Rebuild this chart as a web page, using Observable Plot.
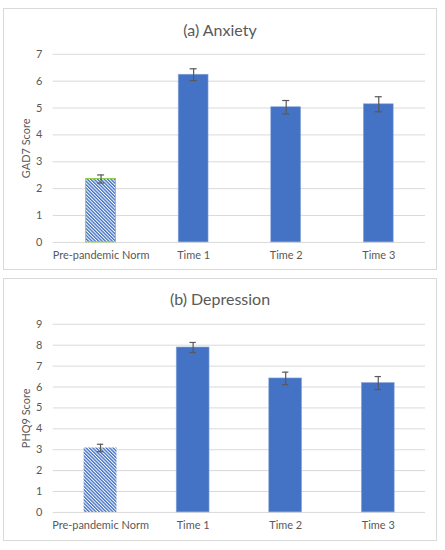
<!DOCTYPE html>
<html>
<head>
<meta charset="utf-8">
<script src="https://cdn.jsdelivr.net/npm/d3@7"></script>
<script src="https://cdn.jsdelivr.net/npm/@observablehq/plot@0.6"></script>
<style>
  body { margin: 0; background: #fff; font-family: Lato, "Open Sans", sans-serif; }
  .panel { position: absolute; left: 3px; width: 434px; border: 1px solid #d9d9d9; box-sizing: border-box; background: #fff; }
  .panel .ttl { position: absolute; left: 0; right: 0; text-align: center; font-size: 16px; color: #595959; }
  .panel svg { position: absolute; left: 0; top: 0; }
</style>
</head>
<body>
<div class="panel" id="p1" style="top:8px;height:262px;"><div class="ttl" style="top:11px;">(a) Anxiety</div></div>
<div class="panel" id="p2" style="top:278px;height:263px;"><div class="ttl" style="top:10px;">(b) Depression</div></div>
<script>
const groups = ["Pre-pandemic Norm", "Time 1", "Time 2", "Time 3"];
const anxietyMean = [2.36, 6.24, 5.03, 5.14];
const anxietyErr = [0.15, 0.22, 0.25, 0.28];
const depressionMean = [3.08, 7.89, 6.41, 6.19];
const depressionErr = [0.18, 0.24, 0.3, 0.31];

const blue = "#4472C4";
const grey = "#595959";

function panel(el, means, errs, yLabel, yMax, pad, outline, mb, id) {
  const rows = groups.map((g, i) => ({group: g, mean: means[i], err: errs[i]}));
  const w = 434, h = el.clientHeight + 2;
  // caps about 7px wide, bars are (1 - pad) of the step
  const capInset = ((1 - pad) * 93.5 - 7) / 2;
  const chart = Plot.plot({
    width: w,
    height: h,
    marginLeft: 49,
    marginRight: 11,
    marginTop: 45,
    marginBottom: mb,
    style: {fontFamily: "Lato, 'Open Sans', sans-serif", fontSize: "11px", color: grey, background: "transparent"},
    x: {domain: groups, paddingInner: pad, paddingOuter: pad / 2, label: null, tickSize: 0, tickPadding: 9},
    y: {domain: [0, yMax], ticks: d3.range(0, yMax + 1), tickFormat: "d", label: yLabel, labelAnchor: "center", labelArrow: "none", labelOffset: 31, tickSize: 0, tickPadding: 11},
    marks: [
      Plot.gridY(d3.range(0, yMax + 1), {stroke: "#d9d9d9", strokeOpacity: 1, strokeWidth: 1}),
      Plot.barY(rows.slice(1), {x: "group", y: "mean", fill: blue, stroke: "#8faadc", strokeWidth: 0.6}),
      Plot.barY(rows.slice(0, 1), {x: "group", y: "mean", fill: `url(#${id})`, stroke: outline, strokeWidth: 1}),
      Plot.ruleX(rows, {x: "group", y1: d => d.mean - d.err, y2: d => d.mean + d.err, stroke: grey, strokeWidth: 1.2}),
      Plot.tickY(rows, {x: "group", y: d => d.mean + d.err, stroke: grey, strokeWidth: 1.2, inset: capInset}),
      Plot.tickY(rows, {x: "group", y: d => d.mean - d.err, stroke: grey, strokeWidth: 1.2, inset: capInset})
    ]
  });
  const svg = d3.select(chart);
  const pat = svg.insert("defs", ":first-child").append("pattern")
    .attr("id", id)
    .attr("patternUnits", "userSpaceOnUse")
    .attr("width", 2.4).attr("height", 2.4)
    .attr("patternTransform", "rotate(-45)");
  pat.append("rect").attr("width", 2.4).attr("height", 2.4).attr("fill", "#fff");
  pat.append("rect").attr("width", 1.4).attr("height", 2.4).attr("fill", blue);
  el.appendChild(chart);
}

panel(document.getElementById("p1"), anxietyMean, anxietyErr, "GAD7 Score", 7, 0.68, "#92d050", 28, "hatchA");
panel(document.getElementById("p2"), depressionMean, depressionErr, "PHQ9 Score", 9, 0.64, "none", 29, "hatchB");
</script>
</body>
</html>
